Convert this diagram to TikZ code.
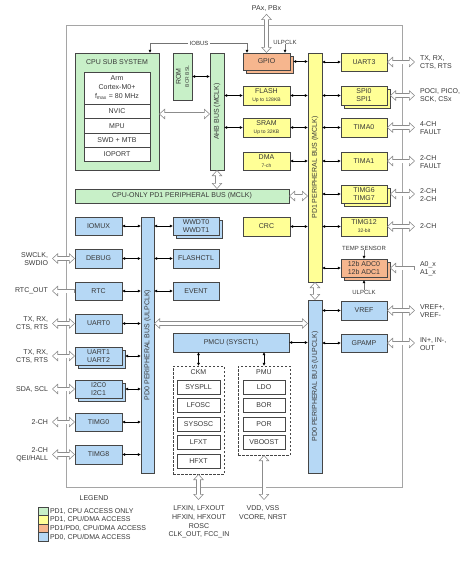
\documentclass[tikz,border=0pt]{standalone}
\usepackage{fontspec}
\setmainfont{Liberation Sans}
\usetikzlibrary{arrows.meta,calc}
\definecolor{cgreen}{RGB}{200,240,200}
\definecolor{cyellow}{RGB}{255,255,150}
\definecolor{corange}{RGB}{246,182,142}
\definecolor{cblue}{RGB}{182,216,245}
\definecolor{cedge}{RGB}{70,70,70}
\definecolor{ctext}{RGB}{55,55,55}
\definecolor{cframe}{RGB}{165,165,165}
\definecolor{chollow}{RGB}{140,140,140}
\newcommand{\bx}[7]{\node[#1, minimum width={(#5)-(#3)}, minimum height={(#6)-(#4)}] (#2) at ({((#3)+(#5))/2},{((#4)+(#6))/2}) {#7};}
\newcommand{\shbx}[7]{\node[#1, minimum width={(#5)-(#3)}, minimum height={(#6)-(#4)}] (#2sh) at ({((#3)+(#5))/2+3},{((#4)+(#6))/2+3}) {};\bx{#1}{#2}{#3}{#4}{#5}{#6}{#7}}
\newcommand{\hol}[3]{\draw[holo,#1] #2 -- #3;\draw[holi,#1] #2 -- #3;}
\newcommand{\sm}[1]{{\fontsize{5}{6}\selectfont #1}}
\tikzset{
 base/.style={draw=cedge, line width=0.8pt, inner sep=0pt, outer sep=0pt, text=ctext, font=\fontsize{7}{8}\selectfont, align=center},
 frame/.style={draw=cframe, line width=1pt, inner sep=0pt, outer sep=0pt},
 gbox/.style={base, fill=cgreen},
 ybox/.style={base, fill=cyellow},
 obox/.style={base, fill=corange},
 bbox/.style={base, fill=cblue},
 wbox/.style={base, fill=white, line width=1pt},
 dbox/.style={base, dashed, dash pattern=on 2.5pt off 1.5pt, line width=0.7pt},
 lbl/.style={text=ctext, font=\fontsize{7}{8}\selectfont, inner sep=0pt, outer sep=0pt},
 slbl/.style={lbl, font=\fontsize{6}{7}\selectfont},
 bustxt/.style={lbl, rotate=90},
 sa/.style={draw=black, line width=0.6pt, >={Latex[length=3.2pt,width=3.2pt]}, <->},
 thinl/.style={draw=black!55, line width=0.6pt, >={Latex[length=3.2pt,width=3.2pt,color=black]}},
 holo/.style={draw=chollow, line width=4.6pt, >={Triangle[width=10.5pt,length=6pt]}},
 holi/.style={draw=white, line width=3pt, shorten >=1.1pt, shorten <=1.1pt, >={Triangle[width=7.4pt,length=4.3pt]}},
}
\begin{document}
\begin{tikzpicture}[x=1pt,y=-1pt]
\useasboundingbox (0,0) rectangle (474,562);
\bx{frame}{frame}{66}{25}{402}{487}{}
% CPU sub system
\bx{gbox}{cpu}{75}{53}{159}{170}{}
\node[lbl] (cput) at (117,62) {CPU SUB SYSTEM};
\bx{wbox,font=\fontsize{7}{9}\selectfont}{arm}{84}{72}{150}{104}{Arm\\Cortex-M0+\\f\textsubscript{max} = 80 MHz}
\bx{wbox}{nvic}{84}{104}{150}{118.5}{NVIC}
\bx{wbox}{mpu}{84}{118.5}{150}{133}{MPU}
\bx{wbox}{swd}{84}{133}{150}{147}{SWD + MTB}
\bx{wbox}{ioport}{84}{147}{150}{161}{IOPORT}
\bx{gbox}{rom}{173}{53}{192}{100}{}
\node[bustxt, align=center] (romt) at (rom) {ROM\\\sm{BCR BSL}};
\bx{gbox}{ahb}{210}{53}{224}{170}{}
\node[bustxt] (ahbt) at (ahb) {AHB BUS (MCLK)};
\bx{gbox}{cpuonly}{75}{189}{289}{203}{CPU-ONLY PD1 PERIPHERAL BUS (MCLK)}
% PD1 column
\shbx{obox}{gpio}{243}{53}{290}{70}{GPIO}
\bx{ybox}{flash}{243}{86}{290}{105}{FLASH\\\sm{Up to 128KB}}
\bx{ybox}{sram}{243}{118}{290}{137}{SRAM\\\sm{Up to 32KB}}
\bx{ybox}{dma}{243}{152}{290}{170}{DMA\\\sm{7-ch}}
\bx{ybox}{crc}{243}{217}{290}{236}{CRC}
\bx{ybox}{pd1}{308}{53}{322}{282}{}
\node[bustxt] (pd1t) at (pd1) {PD1 PERIPHERAL BUS (MCLK)};
\bx{ybox}{uart3}{341}{53}{387}{71}{UART3}
\shbx{ybox}{spi}{341}{86}{387}{105}{SPI0\\SPI1}
\bx{ybox}{tima0}{341}{118}{387}{137}{TIMA0}
\bx{ybox}{tima1}{341}{152}{387}{170}{TIMA1}
\shbx{ybox}{timg6}{341}{185}{387}{203}{TIMG6\\TIMG7}
\bx{ybox}{timg12}{341}{217}{387}{236}{TIMG12\\\sm{32-bit}}
\shbx{obox}{adc}{341}{259}{387}{277}{12b ADC0\\12b ADC1}
% PD0 right
\bx{bbox}{pd0r}{308}{300}{322}{473}{}
\node[bustxt] (pd0rt) at (pd0r) {PD0 PERIPHERAL BUS (ULPCLK)};
\bx{bbox}{vref}{341}{301}{387}{320}{VREF}
\bx{bbox}{gpamp}{341}{334}{387}{352}{GPAMP}
\bx{bbox}{pmcu}{173}{333}{289}{352}{PMCU (SYSCTL)}
% PD0 left
\bx{bbox}{pd0l}{141}{217}{154}{473}{}
\node[bustxt] (pd0lt) at (pd0l) {PD0 PERIPHERAL BUS (ULPCLK)};
\bx{bbox}{iomux}{75}{217}{122}{235}{IOMUX}
\bx{bbox}{debug}{75}{249}{122}{268}{DEBUG}
\bx{bbox}{rtc}{75}{282}{122}{300}{RTC}
\bx{bbox}{uart0}{75}{314}{122}{333}{UART0}
\shbx{bbox}{uart1}{75}{347}{122}{365}{UART1\\UART2}
\shbx{bbox}{i2c}{75}{380}{122}{398}{I2C0\\I2C1}
\bx{bbox}{timg0}{75}{413}{122}{431}{TIMG0}
\bx{bbox}{timg8}{75}{445}{122}{464}{TIMG8}
\shbx{bbox}{wwdt}{173}{217}{219}{235}{WWDT0\\WWDT1}
\bx{bbox}{flashctl}{173}{249}{219}{268}{FLASHCTL}
\bx{bbox}{event}{173}{282}{219}{300}{EVENT}
% CKM / PMU
\bx{dbox}{ckm}{173}{366}{224}{474}{}
\node[lbl] (ckmt) at (198.5,372.5) {CKM};
\bx{wbox}{syspll}{177}{380}{220}{394}{SYSPLL}
\bx{wbox}{lfosc}{177}{398.5}{220}{412.5}{LFOSC}
\bx{wbox}{sysosc}{177}{417}{220}{431}{SYSOSC}
\bx{wbox}{lfxt}{177}{435.5}{220}{449.5}{LFXT}
\bx{wbox}{hfxt}{177}{454}{220}{468}{HFXT}
\bx{dbox}{pmu}{238}{366}{290}{455}{}
\node[lbl] (pmut) at (264,372.5) {PMU};
\bx{wbox}{ldo}{243}{380}{285}{394}{LDO}
\bx{wbox}{bor}{243}{398.5}{285}{412.5}{BOR}
\bx{wbox}{por}{243}{417}{285}{431}{POR}
\bx{wbox}{vboost}{243}{435.5}{285}{449.5}{VBOOST}
% small bus arrows
\draw[sa] (rom.east) -- (rom.east -| ahb.west);
\draw[sa] (ahb.east |- flash) -- (flash.west);
\draw[sa] (ahb.east |- sram) -- (sram.west);
\draw[sa] (gpio.east -| gpiosh.east) -- (gpio.east -| pd1.west);
\foreach \n in {flash,sram,dma,crc} \draw[sa] (\n.east) -- (\n.east -| pd1.west);
\foreach \n in {uart3,spi,tima0,tima1,timg6,timg12,adc} \draw[sa] (pd1.east |- \n) -- (\n.west);
\foreach \n in {vref,gpamp} \draw[sa] (pd0r.east |- \n) -- (\n.west);
\draw[sa] (pmcu.east) -- (pmcu.east -| pd0r.west);
\foreach \n in {iomux,debug,rtc,uart0,timg0,timg8} \draw[sa] (\n.east) -- (\n.east -| pd0l.west);
\foreach \n in {uart1,i2c} \draw[sa] (\n.east -| \n sh.east) -- (\n.east -| pd0l.west);
\foreach \n in {wwdt,flashctl,event} \draw[sa] (pd0l.east |- \n) -- (\n.west);
\draw[sa] (pmcu.south -| ckm) -- (ckm.north);
\draw[sa] (pmcu.south -| pmu) -- (pmu.north);
% IOBUS and clocks
\coordinate (io1) at (150,43);
\coordinate (io2) at (247,43);
\draw[thinl, <->] (io1 |- cpu.north) -- (io1) -- (io2) -- (io2 |- gpio.north);
\node[slbl, fill=white, inner xsep=2pt] (iobus) at (199,43) {IOBUS};
\node[slbl] (ulpt) at (285,42) {ULPCLK};
\draw[thinl, ->] (ulpt.south) -- (ulpt.south |- gpio.north);
\node[slbl] (temps) at (364,248) {TEMP SENSOR};
\draw[thinl, ->] (temps.south) -- (temps.south |- adc.north);
\node[slbl] (ulpb) at (364,292) {ULPCLK};
\draw[thinl, ->] (ulpb.north) -- (ulpb.north |- adcsh.south);
% hollow arrows (internal)
\node[lbl] (paxl) at (266.5,9) {PAx, PBx};
\hol{<->}{([yshift=-2pt]paxl.south)}{(gpio.north)}
\coordinate (cy) at (0,114);
\hol{<->}{(cpu.east |- cy)}{(ahb.west |- cy)}
\hol{<->}{(ahb.south)}{(cpuonly.north -| ahb)}
\hol{<->}{(cpuonly.east)}{(cpuonly.east -| pd1.west)}
\hol{<->}{(pd1.south)}{(pd0r.north)}
\coordinate (hy) at (0,323.5);
\hol{<->}{(pd0l.east |- hy)}{(pd0r.west |- hy)}
% right external
\coordinate (rx) at (415,0);
\hol{<->}{(uart3.east)}{(uart3.east -| rx)}
\hol{<->}{(spi.east -| spish.east)}{(spi.east -| rx)}
\hol{<->}{(tima0.east)}{(tima0.east -| rx)}
\hol{<->}{(tima1.east)}{(tima1.east -| rx)}
\hol{<->}{(timg6.east -| timg6sh.east)}{(timg6.east -| rx)}
\hol{<->}{(timg12.east)}{(timg12.east -| rx)}
\hol{<-}{(adc.east -| adcsh.east)}{(adc.east -| rx)}
\hol{<->}{(vref.east)}{(vref.east -| rx)}
\hol{<->}{(gpamp.east)}{(gpamp.east -| rx)}
\node[lbl, anchor=west, align=left] (luart3) at (420,63) {TX, RX,\\CTS, RTS};
\node[lbl, anchor=west, align=left] (lspi) at (420,96) {POCI, PICO,\\SCK, CSx};
\node[lbl, anchor=west, align=left] (ltima0) at (420,128) {4-CH\\FAULT};
\node[lbl, anchor=west, align=left] (ltima1) at (420,162) {2-CH\\FAULT};
\node[lbl, anchor=west, align=left] (ltimg6) at (420,195) {2-CH\\2-CH};
\node[lbl, anchor=west, align=left] (ltimg12) at (420,226.5) {2-CH};
\node[lbl, anchor=west, align=left] (ladc) at (420,269) {A0\_x\\A1\_x};
\node[lbl, anchor=west, align=left] (lvref) at (420,311) {VREF+,\\VREF-};
\node[lbl, anchor=west, align=left] (lgpamp) at (420,344) {IN+, IN-,\\OUT};
% left external
\coordinate (lx) at (52,0);
\hol{<->}{(debug.west -| lx)}{(debug.west)}
\hol{<-}{(rtc.west -| lx)}{(rtc.west)}
\hol{<->}{(uart0.west -| lx)}{(uart0.west)}
\hol{<->}{(uart1.west -| lx)}{(uart1.west)}
\hol{<->}{(i2c.west -| lx)}{(i2c.west)}
\hol{<->}{(timg0.west -| lx)}{(timg0.west)}
\hol{<->}{(timg8.west -| lx)}{(timg8.west)}
\node[lbl, anchor=east, align=right] (ldebug) at (48,259) {SWCLK,\\SWDIO};
\node[lbl, anchor=east, align=right] (lrtc) at (48,291) {RTC\_OUT};
\node[lbl, anchor=east, align=right] (luart0) at (48,324) {TX, RX,\\CTS, RTS};
\node[lbl, anchor=east, align=right] (luart1) at (48,357) {TX, RX,\\CTS, RTS};
\node[lbl, anchor=east, align=right] (li2c) at (48,389) {SDA, SCL};
\node[lbl, anchor=east, align=right] (ltimg0) at (48,422) {2-CH};
\node[lbl, anchor=east, align=right] (ltimg8) at (48,455) {2-CH\\QEI/HALL};
% bottom external
\coordinate (by) at (0,500);
\hol{<->}{(ckm.south)}{(ckm.south |- by)}
\hol{<->}{(pmu.south)}{(pmu.south |- by)}
\node[lbl, anchor=north, align=center, font=\fontsize{7}{8.7}\selectfont] (lckm) at (199,506) {LFXIN, LFXOUT\\HFXIN, HFXOUT\\ROSC\\CLK\_OUT, FCC\_IN};
\node[lbl, anchor=north, align=center, font=\fontsize{7}{8.7}\selectfont] (lpmu) at (263,506) {VDD, VSS\\VCORE, NRST};
% legend
\node[lbl] (legend) at (94,498) {LEGEND};
\bx{gbox,line width=0.6pt}{lg1}{38}{507}{48}{515.5}{}
\bx{ybox,line width=0.6pt}{lg2}{38}{515.5}{48}{524}{}
\bx{obox,line width=0.6pt}{lg3}{38}{524}{48}{532.5}{}
\bx{bbox,line width=0.6pt}{lg4}{38}{532.5}{48}{541}{}
\node[lbl, anchor=west] (lt1) at (50,511) {PD1, CPU ACCESS ONLY};
\node[lbl, anchor=west] (lt2) at (50,519.7) {PD1, CPU/DMA ACCESS};
\node[lbl, anchor=west] (lt3) at (50,528.4) {PD1/PD0, CPU/DMA ACCESS};
\node[lbl, anchor=west] (lt4) at (50,537.1) {PD0, CPU/DMA ACCESS};
\end{tikzpicture}
\end{document}
